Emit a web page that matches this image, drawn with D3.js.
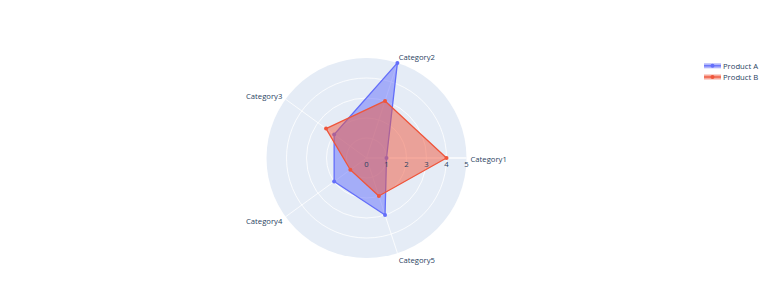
<!DOCTYPE html>
<html>
<head>
<meta charset="utf-8">
<script src="https://cdn.jsdelivr.net/npm/d3@7"></script>
<style>
  body { margin: 0; background: #fff; }
  text { font-family: "Open Sans", Verdana, Arial, sans-serif; fill: #2a3f5f; }
</style>
</head>
<body>
<svg id="chart"></svg>
<script>
// datos
const categories = ["Category1", "Category2", "Category3", "Category4", "Category5"];
const productA = [1, 5, 2, 2, 3];
const productB = [4, 3, 2.5, 1, 2];
const radialTicks = [0, 1, 2, 3, 4, 5];

const seriesNames = ["Product A", "Product B"];
const seriesValues = [productA, productB];
const colors = ["#636efa", "#EF553B"];

const width = 768, height = 306;
const cx = 366.5, cy = 158, R = 100;
const fontSize = 7.7;

const svg = d3.select("#chart").attr("width", width).attr("height", height);

const r = d3.scaleLinear().domain([0, 5]).range([0, R]);
// ángulo en radianes, antihorario desde el este
const angle = d3.scalePoint().domain(categories).range([0, 2 * Math.PI * (categories.length - 1) / categories.length]);

const px = (a, rad) => cx + rad * Math.cos(a);
const py = (a, rad) => cy - rad * Math.sin(a);

const g = svg.append("g");

// fondo polar
g.append("circle").attr("cx", cx).attr("cy", cy).attr("r", R).attr("fill", "#E5ECF6");

// círculos de la rejilla
g.selectAll(".grid")
  .data(radialTicks.filter(t => t > 0 && t < 5))
  .enter().append("circle")
  .attr("cx", cx).attr("cy", cy)
  .attr("r", d => r(d))
  .attr("fill", "none").attr("stroke", "#fff").attr("stroke-width", 0.8);

// radios
g.selectAll(".spoke")
  .data(categories)
  .enter().append("line")
  .attr("x1", cx).attr("y1", cy)
  .attr("x2", d => px(angle(d), R)).attr("y2", d => py(angle(d), R))
  .attr("stroke", "#fff").attr("stroke-width", 0.8);

// eje radial
g.append("line")
  .attr("x1", cx).attr("y1", cy).attr("x2", cx + r(5)).attr("y2", cy)
  .attr("stroke", "#fff").attr("stroke-width", 1.2);

// trazas
const line = d3.lineRadial()
  .angle((d, i) => Math.PI / 2 - angle(categories[i]))
  .radius(d => r(d))
  .curve(d3.curveLinearClosed);

seriesValues.forEach((vals, k) => {
  const tr = g.append("g").attr("transform", `translate(${cx},${cy})`);
  tr.append("path")
    .attr("d", line(vals))
    .attr("fill", colors[k]).attr("fill-opacity", 0.5)
    .attr("stroke", colors[k]).attr("stroke-width", 1.3)
    .attr("stroke-linejoin", "round");
  tr.selectAll(".pt")
    .data(vals)
    .enter().append("circle")
    .attr("cx", (d, i) => r(d) * Math.cos(angle(categories[i])))
    .attr("cy", (d, i) => -r(d) * Math.sin(angle(categories[i])))
    .attr("r", 2)
    .attr("fill", colors[k]);
});

// etiquetas del eje radial
g.selectAll(".rtick")
  .data(radialTicks)
  .enter().append("text")
  .attr("x", d => cx + r(d))
  .attr("y", cy + 9)
  .attr("text-anchor", "middle")
  .attr("font-size", fontSize)
  .text(d => d);

// etiquetas de categorías
g.selectAll(".alabel")
  .data(categories)
  .enter().append("text")
  .attr("x", d => px(angle(d), R + 4))
  .attr("y", d => py(angle(d), R + 4) + 3.5 - 2.3 * Math.sin(angle(d)))
  .attr("text-anchor", d => {
    const c = Math.cos(angle(d));
    return c > 0.1 ? "start" : (c < -0.1 ? "end" : "middle");
  })
  .attr("font-size", fontSize)
  .text(d => d);

// leyenda
const legend = svg.append("g").attr("transform", "translate(704,65.8)");
seriesNames.forEach((name, k) => {
  const it = legend.append("g").attr("transform", `translate(0,${k * 11.2})`);
  it.append("rect").attr("x", 0).attr("y", -2.5).attr("width", 17).attr("height", 5)
    .attr("fill", colors[k]).attr("fill-opacity", 0.5);
  it.append("line").attr("x1", 0).attr("x2", 17).attr("y1", 0).attr("y2", 0)
    .attr("stroke", colors[k]).attr("stroke-width", 1.3);
  it.append("circle").attr("cx", 8.5).attr("cy", 0).attr("r", 2).attr("fill", colors[k]);
  it.append("text").attr("x", 19).attr("y", 2.7).attr("font-size", fontSize).text(name);
});
</script>
</body>
</html>
